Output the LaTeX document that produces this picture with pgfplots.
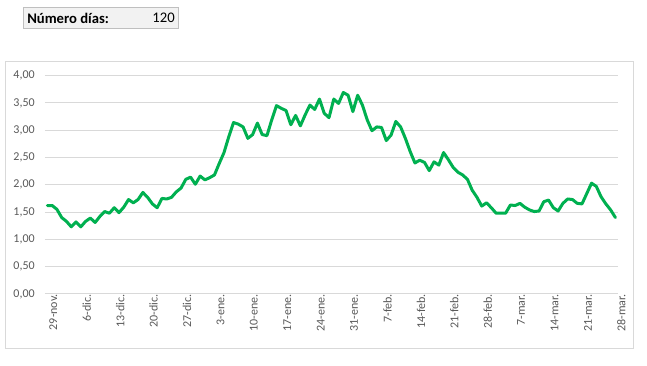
\documentclass[border=0pt]{standalone}
\usepackage{pgfplots}
\pgfplotsset{compat=1.18}
\usepackage{pgfplotstable}
\usepackage{fontspec}
\setmainfont{Carlito}
\definecolor{gridc}{HTML}{D9D9D9}
\definecolor{labc}{HTML}{595959}
\definecolor{linec}{HTML}{00B050}
\definecolor{boxfill}{HTML}{F2F2F2}
\definecolor{boxdraw}{HTML}{BFBFBF}
\pgfplotstableread{
i v
0 1.62
1 1.62
2 1.55
3 1.40
4 1.33
5 1.23
6 1.32
7 1.23
8 1.33
9 1.39
10 1.31
11 1.42
12 1.51
13 1.48
14 1.58
15 1.49
16 1.59
17 1.73
18 1.67
19 1.73
20 1.86
21 1.77
22 1.65
23 1.58
24 1.75
25 1.74
26 1.77
27 1.87
28 1.94
29 2.10
30 2.14
31 2.01
32 2.16
33 2.09
34 2.13
35 2.18
36 2.39
37 2.59
38 2.88
39 3.14
40 3.11
41 3.06
42 2.85
43 2.92
44 3.13
45 2.92
46 2.90
47 3.19
48 3.45
49 3.40
50 3.36
51 3.10
52 3.27
53 3.08
54 3.28
55 3.46
56 3.38
57 3.57
58 3.31
59 3.23
60 3.57
61 3.49
62 3.69
63 3.64
64 3.34
65 3.64
66 3.46
67 3.19
68 2.99
69 3.06
70 3.05
71 2.81
72 2.91
73 3.16
74 3.06
75 2.85
76 2.61
77 2.40
78 2.45
79 2.41
80 2.26
81 2.42
82 2.36
83 2.59
84 2.46
85 2.32
86 2.23
87 2.18
88 2.10
89 1.90
90 1.77
91 1.61
92 1.67
93 1.58
94 1.48
95 1.48
96 1.48
97 1.63
98 1.62
99 1.66
100 1.59
101 1.54
102 1.51
103 1.52
104 1.69
105 1.72
106 1.58
107 1.52
108 1.66
109 1.74
110 1.73
111 1.66
112 1.65
113 1.84
114 2.03
115 1.97
116 1.78
117 1.65
118 1.54
119 1.40
}\datatable
\begin{document}
\begin{tikzpicture}
\path[use as bounding box, fill=white] (0pt,0pt) rectangle (485.25pt,274.5pt);
% number box
\draw[boxdraw, fill=boxfill, line width=0.75pt] (17.25pt,252.75pt) rectangle (133.5pt,268.9pt);
\node[anchor=west, inner sep=0pt, font=\fontsize{11}{13}\selectfont\bfseries] at (20.25pt,261pt) {Número días:};
\node[anchor=east, inner sep=0pt, font=\fontsize{11}{13}\selectfont] at (131.25pt,261pt) {120};
% chart frame
\draw[gridc, line width=0.75pt] (3.75pt,12.75pt) rectangle (474.75pt,228.4pt);
\begin{axis}[
  at={(33.75pt,54pt)}, anchor=south west,
  scale only axis, width=429.6pt, height=163.8pt,
  xmin=-0.5, xmax=119.5, ymin=0, ymax=4,
  axis line style={draw=none},
  major tick length=0pt,
  ymajorgrids, grid style={gridc, line width=0.75pt},
  ytick={0,0.5,...,4},
  xtick={0,7,...,119},
  xticklabels={29-nov.,6-dic.,13-dic.,20-dic.,27-dic.,3-ene.,10-ene.,17-ene.,24-ene.,31-ene.,7-feb.,14-feb.,21-feb.,28-feb.,7-mar.,14-mar.,21-mar.,28-mar.},
  /pgf/number format/use comma,
  /pgf/number format/fixed,
  /pgf/number format/fixed zerofill,
  /pgf/number format/precision=2,
  /pgf/number format/assume math mode=true,
  ticklabel style={font=\fontsize{9}{11}\selectfont, text=labc, inner sep=0pt},
  yticklabel style={anchor=east, xshift=-7.5pt},
  xticklabel style={rotate=90, anchor=east, yshift=-4.5pt},
  clip=false,
]
\addplot[linec, line width=2.25pt, line join=round, line cap=round] table[x=i, y=v] {\datatable};
\end{axis}
\end{tikzpicture}
\end{document}
